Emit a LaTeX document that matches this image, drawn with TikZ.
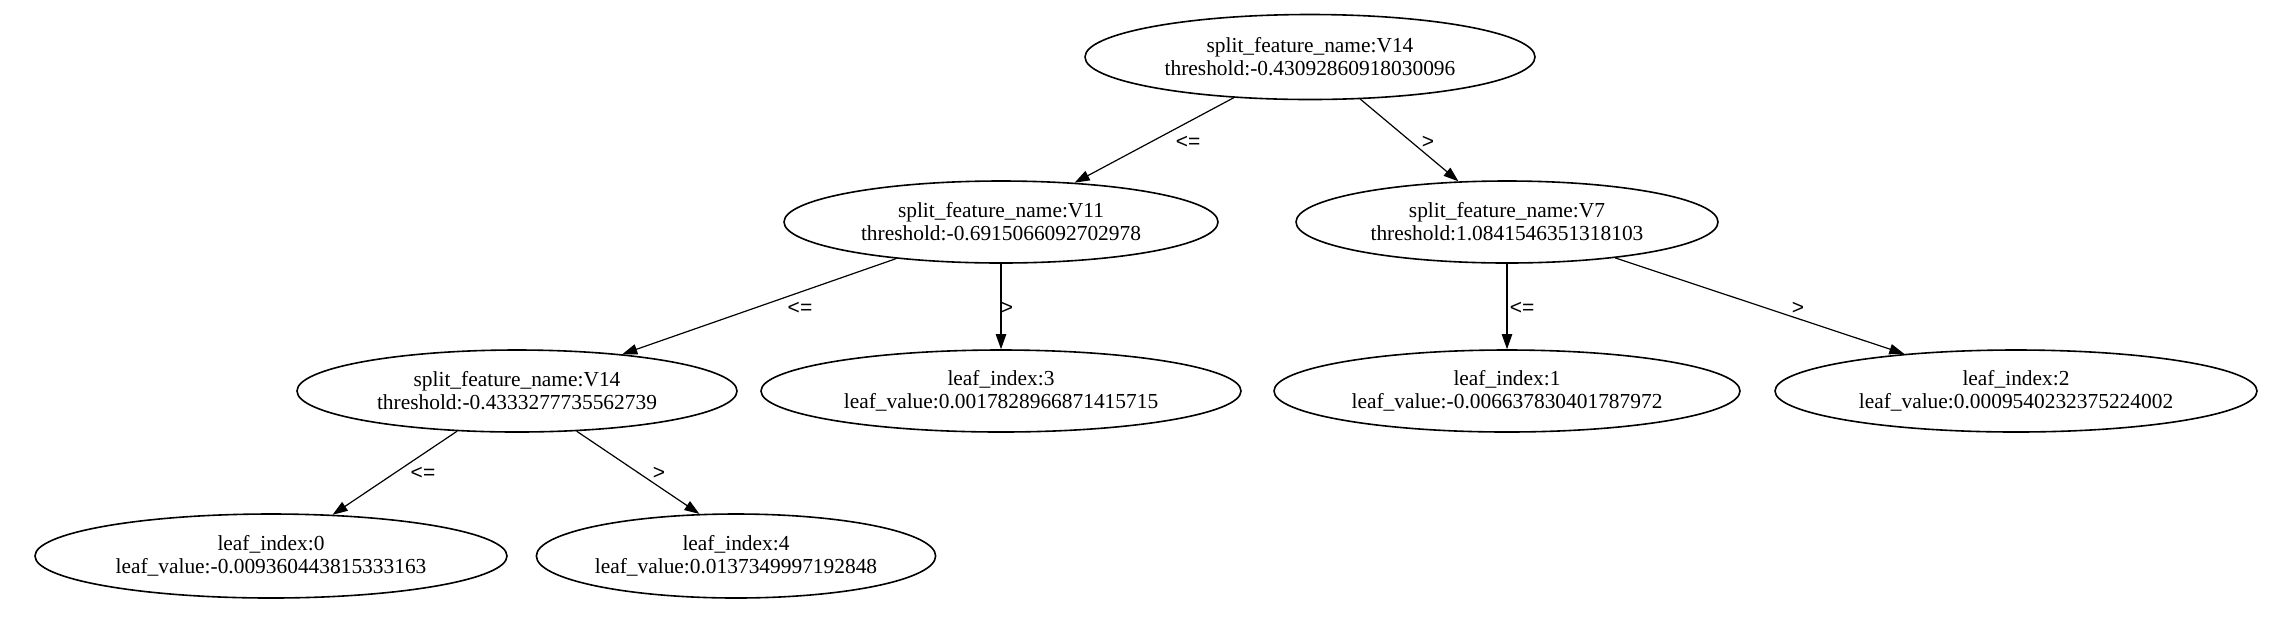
\documentclass[tikz,border=0pt]{standalone}
\usepackage{fontspec}
\setmainfont{Liberation Serif}
\newfontfamily\lsans{Liberation Sans}
\usetikzlibrary{arrows.meta,shapes.geometric}
\tikzset{
  tnode/.style={draw, ellipse, line width=0.8pt, inner sep=0pt, align=center,
    minimum height=41pt, font=\fontsize{10.7pt}{11.5pt}\selectfont},
  edge/.style={line width=0.6pt, -{Triangle[length=7.5pt,width=5.2pt]}},
  lbl/.style={font=\lsans\fontsize{10.5pt}{12pt}\selectfont, inner sep=0pt}
}
\begin{document}
\begin{tikzpicture}[x=0.5pt,y=-0.5pt]
\useasboundingbox (0,0) rectangle (2270,628);
\node[tnode, minimum width=225pt, minimum height=42.5pt] (root) at (1310,57) {split\_feature\_name:V14\\threshold:-0.43092860918030096};
\node[tnode, minimum width=217pt] (v11) at (1001,222) {split\_feature\_name:V11\\threshold:-0.6915066092702978};
\node[tnode, minimum width=211pt] (v7) at (1507,222) {split\_feature\_name:V7\\threshold:1.0841546351318103};
\node[tnode, minimum width=220pt] (v14) at (517,391) {split\_feature\_name:V14\\threshold:-0.4333277735562739};
\node[tnode, minimum width=240pt] (leaf3) at (1001,391) {leaf\_index:3\\leaf\_value:0.0017828966871415715};
\node[tnode, minimum width=233pt] (leaf1) at (1507,391) {leaf\_index:1\\leaf\_value:-0.006637830401787972};
\node[tnode, minimum width=241pt] (leaf2) at (2016,391) {leaf\_index:2\\leaf\_value:0.0009540232375224002};
\node[tnode, minimum width=236pt, minimum height=42pt] (leaf0) at (271,556) {leaf\_index:0\\leaf\_value:-0.009360443815333163};
\node[tnode, minimum width=196pt, minimum height=42pt] (leaf4) at (736,556) {leaf\_index:4\\leaf\_value:0.0137349997192848};

\draw[edge] (root) -- (v11);
\draw[edge] (root) -- (v7);
\draw[edge] (v11) -- (v14);
\draw[edge] (v11) -- (leaf3);
\draw[edge] (v7) -- (leaf1);
\draw[edge] (v7) -- (leaf2);
\draw[edge] (v14) -- (leaf0);
\draw[edge] (v14) -- (leaf4.131);

\node[lbl] (l1) at (1188,142) {<=};
\node[lbl] (l2) at (1428,142) {>};
\node[lbl] (l3) at (800,308) {<=};
\node[lbl] (l4) at (1007,308) {>};
\node[lbl] (l5) at (1522,308) {<=};
\node[lbl] (l6) at (1798,308) {>};
\node[lbl] (l7) at (423,473) {<=};
\node[lbl] (l8) at (659,473) {>};
\end{tikzpicture}
\end{document}
